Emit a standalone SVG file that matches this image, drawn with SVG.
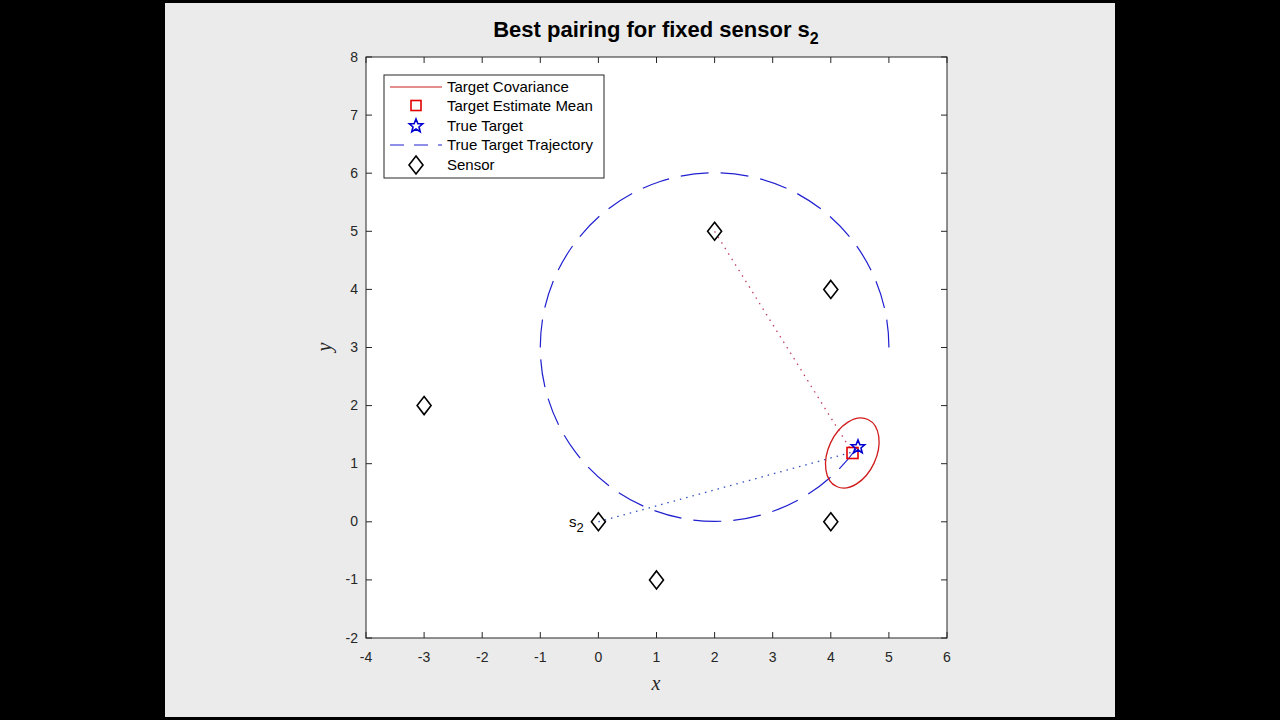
<svg xmlns="http://www.w3.org/2000/svg" width="1280" height="720" viewBox="0 0 1280 720">
<defs>
<style>
.t{font-family:"Liberation Sans",Arial,sans-serif;font-size:14px;fill:#262626}
.lg{font-size:15px;fill:#000}
.tk{stroke:#262626;stroke-width:1}
.sen{fill:none;stroke:#000;stroke-width:1.6}
</style>
<path id="dia" d="M0,-9 L7,0 L0,9 L-7,0 Z"/>
<path id="star" d="M0,-7 L1.9,-2.3 L6.7,-2.2 L3,1 L4.2,5.7 L0,3 L-4.2,5.7 L-3,1 L-6.7,-2.2 L-1.9,-2.3 Z"/>
</defs>
<rect width="1280" height="720" fill="#000"/>
<rect x="165" y="3" width="950" height="714" fill="#ebebeb"/>
<rect x="366" y="57" width="581" height="581" fill="#fff" stroke="#262626" stroke-width="1"/>
<g id="ticks" class="tk">
<path d="M366,638v-6M424.1,638v-6M482.2,638v-6M540.3,638v-6M598.4,638v-6M656.5,638v-6M714.6,638v-6M772.7,638v-6M830.8,638v-6M888.9,638v-6M947,638v-6
M366,57v6M424.1,57v6M482.2,57v6M540.3,57v6M598.4,57v6M656.5,57v6M714.6,57v6M772.7,57v6M830.8,57v6M888.9,57v6M947,57v6
M366,57h6M366,115.1h6M366,173.2h6M366,231.3h6M366,289.4h6M366,347.5h6M366,405.6h6M366,463.7h6M366,521.8h6M366,579.9h6M366,638h6
M947,57h-6M947,115.1h-6M947,173.2h-6M947,231.3h-6M947,289.4h-6M947,347.5h-6M947,405.6h-6M947,463.7h-6M947,521.8h-6M947,579.9h-6M947,638h-6"/>
</g>
<g class="t" text-anchor="middle">
<text x="366" y="662">-4</text><text x="424.1" y="662">-3</text><text x="482.2" y="662">-2</text>
<text x="540.3" y="662">-1</text><text x="598.4" y="662">0</text><text x="656.5" y="662">1</text><text x="714.6" y="662">2</text><text x="772.7" y="662">3</text><text x="830.8" y="662">4</text><text x="888.9" y="662">5</text><text x="947" y="662">6</text>
</g>
<g class="t" text-anchor="end">
<text x="358" y="62">8</text><text x="358" y="120">7</text><text x="358" y="178">6</text><text x="358" y="236">5</text><text x="358" y="294">4</text><text x="358" y="352">3</text><text x="358" y="410">2</text><text x="358" y="468">1</text><text x="358" y="526">0</text><text x="358" y="584">-1</text><text x="358" y="643">-2</text>
</g>
<text x="656" y="690" font-family="Liberation Serif,serif" font-style="italic" font-size="20" text-anchor="middle" fill="#262626">x</text>
<text x="0" y="0" transform="translate(331,347) rotate(-90)" font-family="Liberation Serif,serif" font-style="italic" font-size="20" text-anchor="middle" fill="#262626">y</text>
<text x="656" y="37" font-family="Liberation Sans,Arial,sans-serif" font-weight="bold" font-size="22" text-anchor="middle" fill="#000">Best pairing for fixed sensor s<tspan dy="7" font-size="16">2</tspan></text>
<g id="connectors" fill="none">
<path d="M888.9,347.5 A174.3,174.3 0 1 0 857.2,447.3" stroke="#2020d0" stroke-width="1.2" stroke-dasharray="28 12"/>
<line x1="714.6" y1="231.3" x2="852.3" y2="452.1" stroke="#c04060" stroke-width="1.3" stroke-dasharray="1.5 5"/>
<line x1="598.4" y1="521.8" x2="852.3" y2="452.1" stroke="#3050c0" stroke-width="1.3" stroke-dasharray="1.5 5"/>
</g>
<g id="sensors" class="sen">
<use href="#dia" x="714.6" y="231.3"/><use href="#dia" x="830.8" y="289.4"/><use href="#dia" x="424.1" y="405.6"/><use href="#dia" x="598.4" y="521.8"/><use href="#dia" x="830.8" y="521.8"/><use href="#dia" x="656.5" y="579.9"/>
</g>
<text x="569" y="527" font-family="Liberation Sans,Arial,sans-serif" font-size="15" fill="#000">s<tspan dy="5" font-size="13">2</tspan></text>
<g id="target">
<ellipse cx="852.3" cy="453" rx="37" ry="24" transform="rotate(-65 852.3 453)" fill="none" stroke="#d01c1c" stroke-width="1.3"/>
<rect x="847" y="447.5" width="11" height="11" fill="none" stroke="#e00000" stroke-width="1.6"/>
<use href="#star" x="858" y="447" fill="none" stroke="#0000d0" stroke-width="1.6"/>
</g>
<g id="legend">
<rect x="384" y="75" width="220" height="103" fill="#fff" stroke="#262626" stroke-width="1"/>
<line x1="390" y1="87" x2="442" y2="87" stroke="#c81c1c" stroke-width="1.2"/>
<rect x="411" y="100.5" width="10" height="10" fill="none" stroke="#e00000" stroke-width="1.6"/>
<use href="#star" x="416" y="126" fill="none" stroke="#0000d0" stroke-width="1.6"/>
<line x1="390" y1="145" x2="442" y2="145" stroke="#2020d0" stroke-width="1.2" stroke-dasharray="14 10"/>
<use href="#dia" x="416" y="165" class="sen"/>
<g class="t lg"><text x="447" y="92">Target Covariance</text><text x="447" y="111">Target Estimate Mean</text><text x="447" y="131">True Target</text><text x="447" y="150">True Target Trajectory</text><text x="447" y="170">Sensor</text></g>
</g>
</svg>
